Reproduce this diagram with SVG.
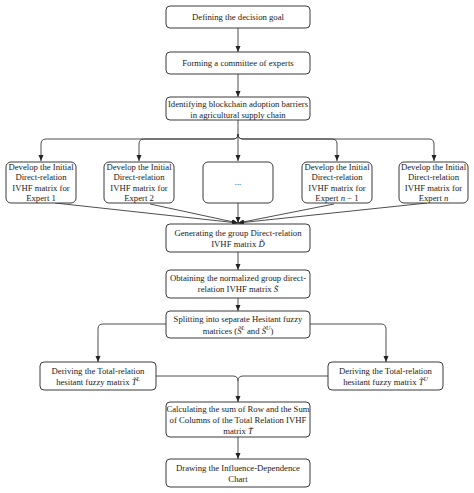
<svg xmlns="http://www.w3.org/2000/svg" width="474" height="493" viewBox="0 0 474 493">
<style>
.box{fill:#fff;stroke:#3a3a3a;stroke-width:1}
.t{font-family:"Liberation Serif","Times New Roman",serif;font-size:8.7px;fill:#222;text-anchor:middle}
.m{font-style:italic}
.c{fill:none;stroke:#3a3a3a;stroke-width:0.9}
.a{marker-end:url(#ah)}
</style>
<defs>
<marker id="ah" markerUnits="userSpaceOnUse" markerWidth="6" markerHeight="6" viewBox="0 0 6 6" refX="6" refY="3" orient="auto">
<path d="M0,0.5 L6,3 L0,5.5 Z" fill="#222"/>
</marker>
</defs>
<rect width="474" height="493" fill="#fff"/>
<g id="connectors">
<path class="c a" d="M238,28 V52"/>
<path class="c a" d="M238,74 V97"/>
<path class="c a" d="M238,120 V161"/>
<path class="c a" d="M238,134 Q238,139 233,139 H46 Q41,139 41,144 V161"/>
<path class="c a" d="M238,134 Q238,139 233,139 H144 Q139,139 139,144 V161"/>
<path class="c a" d="M238,134 Q238,139 243,139 H332 Q337,139 337,144 V161"/>
<path class="c a" d="M238,134 Q238,139 243,139 H429 Q434,139 434,144 V161"/>
<path class="c a" d="M55,203 L238,223"/>
<path class="c a" d="M150,204 L238,223"/>
<path class="c a" d="M238,203 V223"/>
<path class="c a" d="M334,204 L238,223"/>
<path class="c a" d="M427,203 L238,223"/>
<path class="c a" d="M238,252 V270"/>
<path class="c a" d="M238,298 V311"/>
<path class="c a" d="M166,324 H103 Q98,324 98,329 V362"/>
<path class="c a" d="M310,324 H381 Q386,324 386,329 V362"/>
<path class="c" d="M156,376 H233 Q238,376 238,381"/>
<path class="c" d="M328,376 H243 Q238,376 238,381"/>
<path class="c a" d="M238,381 V402"/>
<path class="c a" d="M238,437 V459"/>
</g>
<g id="n1"><rect class="box" x="166" y="6" width="144" height="22" rx="4"/><text class="t" x="238" y="20">Defining the decision goal</text></g>
<g id="n2"><rect class="box" x="166" y="52" width="144" height="22" rx="4"/><text class="t" x="238" y="66">Forming a committee of experts</text></g>
<g id="n3"><rect class="box" x="166" y="97" width="144" height="23" rx="4"/><text class="t" x="238" y="107">Identifying blockchain adoption barriers</text><text class="t" x="238" y="118">in agricultural supply chain</text></g>
<g id="e1"><rect class="box" x="6" y="162" width="70" height="41" rx="5"/><text class="t" x="41" y="169.5">Develop the Initial</text><text class="t" x="41" y="180">Direct-relation</text><text class="t" x="41" y="190.5">IVHF matrix for</text><text class="t" x="41" y="201">Expert 1</text></g>
<g id="e2"><rect class="box" x="104" y="162" width="70" height="41" rx="5"/><text class="t" x="139" y="169.5">Develop the Initial</text><text class="t" x="139" y="180">Direct-relation</text><text class="t" x="139" y="190.5">IVHF matrix for</text><text class="t" x="139" y="201">Expert 2</text></g>
<g id="e3"><rect class="box" x="203" y="162" width="70" height="41" rx="5"/><text class="t" x="238" y="185">...</text></g>
<g id="e4"><rect class="box" x="302" y="162" width="70" height="41" rx="5"/><text class="t" x="337" y="169.5">Develop the Initial</text><text class="t" x="337" y="180">Direct-relation</text><text class="t" x="337" y="190.5">IVHF matrix for</text><text class="t" x="337" y="201">Expert <tspan class="m">n</tspan> − 1</text></g>
<g id="e5"><rect class="box" x="399" y="162" width="69" height="41" rx="5"/><text class="t" x="433.5" y="169.5">Develop the Initial</text><text class="t" x="433.5" y="180">Direct-relation</text><text class="t" x="433.5" y="190.5">IVHF matrix for</text><text class="t" x="433.5" y="201">Expert <tspan class="m">n</tspan></text></g>
<g id="n4"><rect class="box" x="166" y="224" width="144" height="28" rx="4"/><text class="t" x="238" y="235.5">Generating the group Direct-relation</text><text class="t" x="238" y="246.5">IVHF matrix <tspan class="m">D̃</tspan></text></g>
<g id="n5"><rect class="box" x="166" y="270" width="144" height="28" rx="4"/><text class="t" x="238" y="281">Obtaining the normalized group direct-</text><text class="t" x="238" y="292">relation IVHF matrix <tspan class="m">S̃</tspan></text></g>
<g id="n6"><rect class="box" x="166" y="311" width="144" height="27" rx="4"/><text class="t" x="238" y="322">Splitting into separate Hesitant fuzzy</text><text class="t" x="238" y="333.5">matrices (<tspan class="m">S̃</tspan><tspan class="m" font-size="6" dy="-3.5">L</tspan><tspan dy="3.5"> and </tspan><tspan class="m">S̃</tspan><tspan class="m" font-size="6" dy="-3.5">U</tspan><tspan dy="3.5">)</tspan></text></g>
<g id="n7"><rect class="box" x="40" y="362" width="116" height="28" rx="4"/><text class="t" x="98" y="373.5">Deriving the Total-relation</text><text class="t" x="98" y="384.5">hesitant fuzzy matrix  <tspan class="m">T̃</tspan><tspan class="m" font-size="6" dy="-3.5">L</tspan></text></g>
<g id="n8"><rect class="box" x="328" y="362" width="115" height="28" rx="4"/><text class="t" x="385.5" y="373.5">Deriving the Total-relation</text><text class="t" x="385.5" y="384.5">hesitant fuzzy matrix  <tspan class="m">T̃</tspan><tspan class="m" font-size="6" dy="-3.5">U</tspan></text></g>
<g id="n9"><rect class="box" x="166" y="402" width="144" height="35" rx="4"/><text class="t" x="238" y="412">Calculating the sum of Row and the Sum</text><text class="t" x="238" y="423">of Columns of the Total Relation IVHF</text><text class="t" x="238" y="434">matrix  <tspan class="m">T̃</tspan></text></g>
<g id="n10"><rect class="box" x="166" y="459" width="144" height="28" rx="4"/><text class="t" x="238" y="470.5">Drawing the Influence-Dependence</text><text class="t" x="238" y="481.5">Chart</text></g>
</svg>
